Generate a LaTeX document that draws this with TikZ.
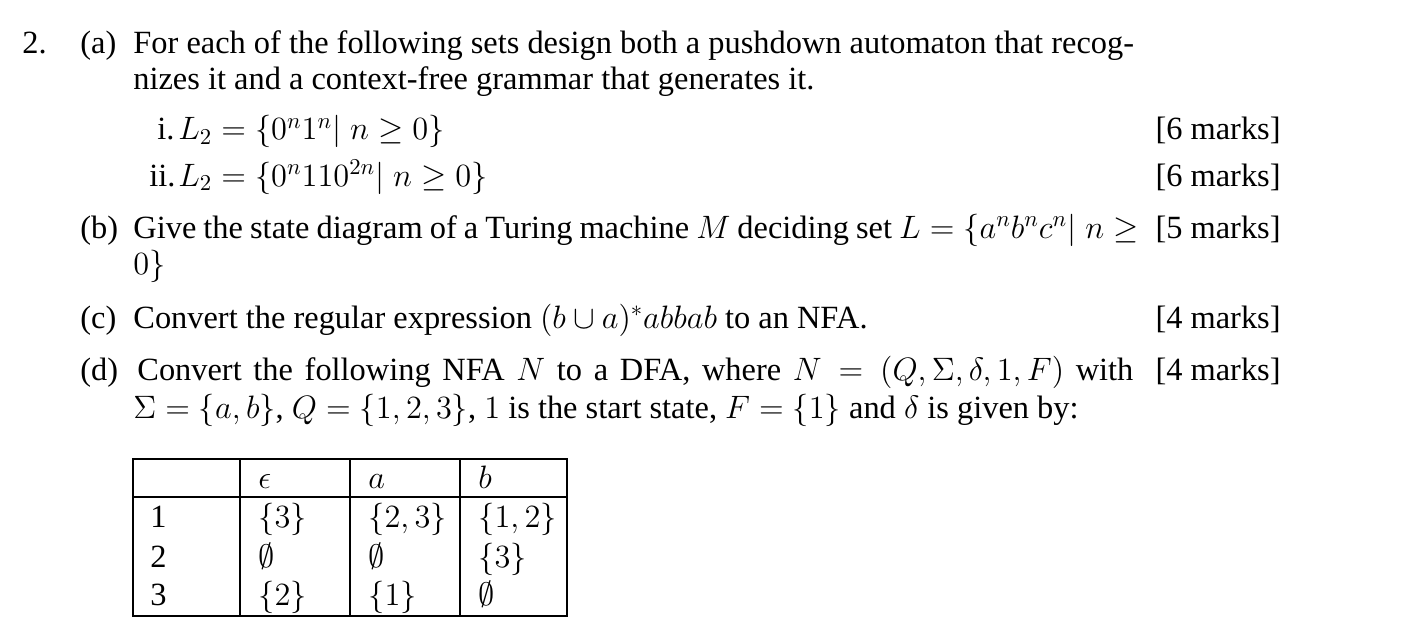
\documentclass[tikz,border=0pt]{standalone}
\usepackage{fix-cm}
\usepackage{amssymb}
\usepackage{fontspec}
\setmainfont{Liberation Serif}
\newcommand\T[4]{\node[txt] (#1) at (#2*0.5pt,-#3*0.5pt) {#4};}
\newcommand\R[4]{\node[txt,anchor=base east] (#1) at (#2*0.5pt,-#3*0.5pt) {#4};}
\begin{document}
\begin{tikzpicture}[txt/.style={anchor=base west,inner sep=0pt,font=\fontsize{16.2pt}{20pt}\selectfont},
 rule/.style={line width=0.6pt}]
\useasboundingbox (0,0) rectangle (709pt,-315.5pt);
\T{n2}{22}{54}{2.}
\T{la}{80}{54}{(a)}
\T{a1}{133}{54}{For each of the following sets design both a pushdown automaton that recog-}
\T{a2}{133}{90}{nizes it and a context-free grammar that generates it.}
\T{i}{157}{140}{i.}
\T{ie}{178}{140}{$L_2=\{0^n1^n|\;n\geq 0\}$}
\R{im}{1281}{140}{[6 marks]}
\T{ii}{149}{186}{ii.}
\T{iie}{178}{186}{$L_2=\{0^n110^{2n}|\;n\geq 0\}$}
\R{iim}{1281}{186}{[6 marks]}
\T{lb}{80}{238}{(b)}
\T{b1}{133}{238}{\makebox[502.5pt][s]{Give the state diagram of a Turing machine $M$ deciding set $L=\{a^nb^nc^n|\;n\geq$}}
\R{bm}{1281}{238}{[5 marks]}
\T{b2}{133}{274}{$0\}$}
\T{lc}{80}{328}{(c)}
\T{c1}{133}{328}{Convert the regular expression $(b\cup a)^*abbab$ to an NFA.}
\R{cm}{1281}{328}{[4 marks]}
\T{ld}{80}{380}{(d)}
\T{d1}{137}{380}{\makebox[498pt][s]{Convert the following NFA $N$ to a DFA, where $N = (Q,\Sigma,\delta,1,F)$ with}}
\R{dm}{1281}{380}{[4 marks]}
\T{d2}{133}{418}{$\Sigma=\{a,b\}$, $Q=\{1,2,3\}$, $1$ is the start state, $F=\{1\}$ and $\delta$ is given by:}
% table
\draw[rule] (133*0.5pt,-459*0.5pt) rectangle (567*0.5pt,-616*0.5pt);
\draw[rule] (133*0.5pt,-497*0.5pt) -- (567*0.5pt,-497*0.5pt);
\foreach \x in {240,350,460} \draw[rule] (\x*0.5pt,-459*0.5pt) -- (\x*0.5pt,-616*0.5pt);
\T{h1}{258}{488}{$\epsilon$}
\T{h2}{368}{488}{$a$}
\T{h3}{478}{488}{$b$}
\T{r1}{150}{527}{1}
\T{r1a}{258}{527}{$\{3\}$}
\T{r1b}{368}{527}{$\{2,3\}$}
\T{r1c}{478}{527}{$\{1,2\}$}
\T{r2}{150}{567}{2}
\T{r2a}{258}{567}{$\emptyset$}
\T{r2b}{368}{567}{$\emptyset$}
\T{r2c}{478}{567}{$\{3\}$}
\T{r3}{150}{605}{3}
\T{r3a}{258}{605}{$\{2\}$}
\T{r3b}{368}{605}{$\{1\}$}
\T{r3c}{478}{605}{$\emptyset$}
\end{tikzpicture}
\end{document}
